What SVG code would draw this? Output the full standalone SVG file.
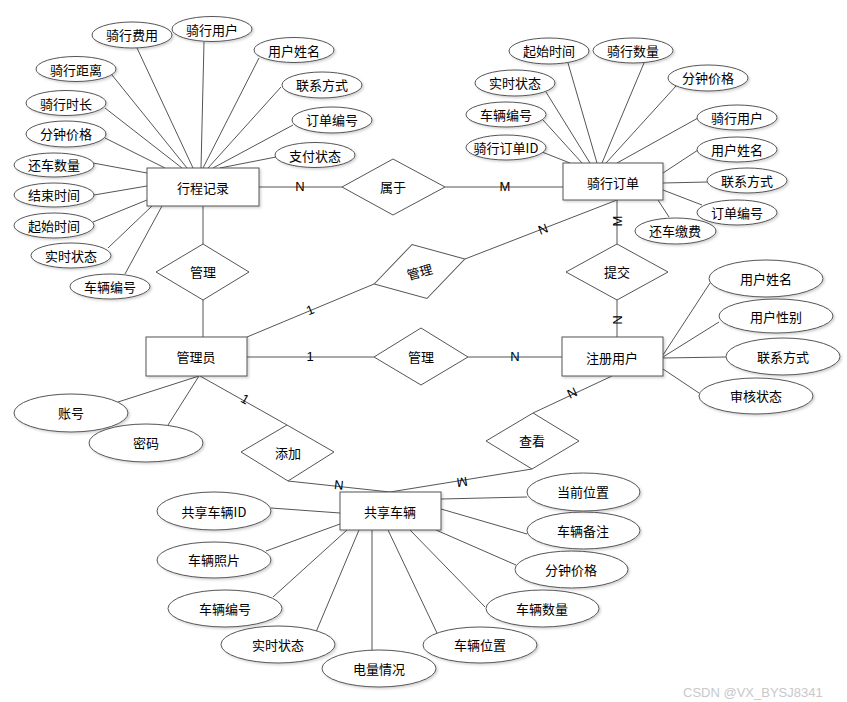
<svg xmlns="http://www.w3.org/2000/svg" width="847" height="702" viewBox="0 0 847 702">
<defs>
<filter id="sh" x="-10%" y="-10%" width="130%" height="140%">
<feDropShadow dx="1.5" dy="1.5" stdDeviation="0.8" flood-color="#000" flood-opacity="0.18"/>
</filter>
</defs>
<style>
.e{fill:#fff;stroke:#555;stroke-width:1;filter:url(#sh)}
.r{fill:#fff;stroke:#555;stroke-width:1;filter:url(#sh)}
.d{fill:#fff;stroke:#555;stroke-width:1}
.l{stroke:#555;stroke-width:1;fill:none}
text{font-family:"Noto Sans CJK SC","Liberation Sans",sans-serif;font-size:13px;fill:#000;text-anchor:middle;dominant-baseline:central}
.c{font-family:"Liberation Sans","DejaVu Sans",sans-serif;font-size:13px}
.wm{font-family:"Liberation Sans",sans-serif;font-size:13px;fill:#c8c8c8;text-anchor:start}
</style>
<rect width="847" height="702" fill="#fff"/>
<g id="connectors">
<!-- 行程记录 attributes -->
<line class="l" x1="137" y1="48" x2="193" y2="168"/>
<line class="l" x1="204" y1="42" x2="201" y2="168"/>
<line class="l" x1="259" y1="58" x2="203" y2="168"/>
<line class="l" x1="281" y1="87" x2="208" y2="168"/>
<line class="l" x1="293" y1="125" x2="213" y2="168"/>
<line class="l" x1="276" y1="157" x2="220" y2="168"/>
<line class="l" x1="112" y1="75" x2="187" y2="168"/>
<line class="l" x1="105" y1="108" x2="182" y2="168"/>
<line class="l" x1="105" y1="138" x2="165" y2="168"/>
<line class="l" x1="93" y1="163" x2="147" y2="173"/>
<line class="l" x1="94" y1="195" x2="147" y2="186"/>
<line class="l" x1="93" y1="222" x2="147" y2="200"/>
<line class="l" x1="108" y1="248" x2="152" y2="206"/>
<line class="l" x1="125" y1="274" x2="162" y2="206"/>
<!-- 骑行订单 attributes -->
<line class="l" x1="568" y1="63" x2="597" y2="163"/>
<line class="l" x1="644" y1="63" x2="602" y2="163"/>
<line class="l" x1="546" y1="92" x2="590" y2="163"/>
<line class="l" x1="676" y1="86" x2="606" y2="163"/>
<line class="l" x1="543" y1="120" x2="582" y2="163"/>
<line class="l" x1="698" y1="118" x2="617" y2="163"/>
<line class="l" x1="542" y1="152" x2="570" y2="163"/>
<line class="l" x1="698" y1="150" x2="663" y2="173"/>
<line class="l" x1="707" y1="182" x2="663" y2="183"/>
<line class="l" x1="702" y1="205" x2="663" y2="190"/>
<line class="l" x1="669" y1="217" x2="658" y2="200"/>
<!-- 注册用户 attributes -->
<line class="l" x1="710" y1="283" x2="663" y2="355"/>
<line class="l" x1="719" y1="322" x2="663" y2="357"/>
<line class="l" x1="726" y1="357" x2="663" y2="358"/>
<line class="l" x1="699" y1="393" x2="663" y2="369"/>
<!-- 管理员 attributes -->
<line class="l" x1="118" y1="402" x2="199" y2="376"/>
<line class="l" x1="168" y1="425" x2="199" y2="376"/>
<!-- 共享车辆 attributes -->
<line class="l" x1="271" y1="508" x2="340" y2="513"/>
<line class="l" x1="266" y1="551" x2="340" y2="524"/>
<line class="l" x1="273" y1="597" x2="347" y2="530"/>
<line class="l" x1="316" y1="632" x2="359" y2="530"/>
<line class="l" x1="372" y1="650" x2="372" y2="530"/>
<line class="l" x1="437" y1="633" x2="388" y2="530"/>
<line class="l" x1="485" y1="607" x2="410" y2="530"/>
<line class="l" x1="516" y1="565" x2="436" y2="530"/>
<line class="l" x1="527" y1="534" x2="441" y2="509"/>
<line class="l" x1="527" y1="497" x2="441" y2="499"/>
<!-- relationships -->
<line class="l" x1="259" y1="187" x2="342" y2="187"/>
<line class="l" x1="445" y1="187" x2="563" y2="187"/>
<line class="l" x1="203" y1="206" x2="203" y2="244"/>
<line class="l" x1="203" y1="300" x2="203" y2="337"/>
<line class="l" x1="247" y1="337" x2="374" y2="284"/>
<line class="l" x1="465" y1="259" x2="617" y2="200"/>
<line class="l" x1="617" y1="200" x2="617" y2="244"/>
<line class="l" x1="617" y1="300" x2="617" y2="337"/>
<line class="l" x1="247" y1="357" x2="374" y2="357"/>
<line class="l" x1="468" y1="357" x2="562" y2="357"/>
<line class="l" x1="200" y1="376" x2="287" y2="425"/>
<line class="l" x1="288" y1="481" x2="390" y2="492"/>
<line class="l" x1="390" y1="492" x2="532" y2="469"/>
<line class="l" x1="533" y1="413" x2="612" y2="376"/>
<!-- cardinality labels -->
<text class="c" x="300" y="186">N</text>
<text class="c" x="505" y="186">M</text>
<text class="c" transform="translate(310,310) rotate(-22.6)">1</text>
<text class="c" transform="translate(543,229) rotate(-21)">N</text>
<text class="c" transform="translate(617,221) rotate(-90)">M</text>
<text class="c" transform="translate(617,320) rotate(90)">N</text>
<text class="c" x="310" y="356">1</text>
<text class="c" x="515" y="356">N</text>
<text class="c" transform="translate(245,399) rotate(29)">1</text>
<text class="c" transform="translate(339,485) rotate(6)">N</text>
<text class="c" transform="translate(462,482) rotate(171)">M</text>
<text class="c" transform="translate(572,393) rotate(-25)">N</text>
</g>
<g id="n-xingcheng">
<rect class="r" x="147" y="168" width="112" height="38"/>
<text x="203" y="187">行程记录</text>
</g>
<g id="n-dingdan">
<rect class="r" x="563" y="163" width="100" height="37"/>
<text x="613" y="182">骑行订单</text>
</g>
<g id="n-guanliyuan">
<rect class="r" x="146" y="337" width="101" height="39"/>
<text x="196" y="356">管理员</text>
</g>
<g id="n-zhuce">
<rect class="r" x="562" y="337" width="101" height="39"/>
<text x="612" y="357">注册用户</text>
</g>
<g id="n-cheliang">
<rect class="r" x="340" y="492" width="101" height="38"/>
<text x="390" y="511">共享车辆</text>
</g>
<g id="r-shuyu">
<polygon class="d" points="342,187 393,159 445,187 393,215"/>
<text x="393" y="186">属于</text>
</g>
<g id="r-guanli1">
<polygon class="d" points="156,272 203,244 249,272 203,300"/>
<text x="203" y="271">管理</text>
</g>
<g id="r-guanli2">
<g transform="translate(419.5,271.5) rotate(-15.4)">
<polygon class="d" points="-47,0 0,-28 47,0 0,28"/>
<text x="0" y="0">管理</text>
</g>
</g>
<g id="r-guanli3">
<polygon class="d" points="374,357 421,328 468,357 421,385"/>
<text x="421" y="356">管理</text>
</g>
<g id="r-tijiao">
<polygon class="d" points="566,272 617,244 668,272 617,300"/>
<text x="617" y="271">提交</text>
</g>
<g id="r-tianjia">
<polygon class="d" points="241,452 287,425 334,452 288,481"/>
<text x="288" y="452">添加</text>
</g>
<g id="r-chakan">
<polygon class="d" points="486,441 533,413 579,441 532,469"/>
<text x="532" y="440">查看</text>
</g>
<g id="a-xingcheng">
<g id="a1"><ellipse class="e" cx="132" cy="35" rx="40" ry="13"/><text x="132" y="34">骑行费用</text></g>
<g id="a2"><ellipse class="e" cx="212" cy="29" rx="40" ry="12.5"/><text x="212" y="29">骑行用户</text></g>
<g id="a3"><ellipse class="e" cx="294" cy="50" rx="40" ry="12.5"/><text x="294" y="50">用户姓名</text></g>
<g id="a4"><ellipse class="e" cx="322" cy="85" rx="40" ry="13"/><text x="322" y="84">联系方式</text></g>
<g id="a5"><ellipse class="e" cx="332" cy="120" rx="40" ry="13"/><text x="332" y="119">订单编号</text></g>
<g id="a6"><ellipse class="e" cx="315" cy="155" rx="40" ry="12.5"/><text x="315" y="155">支付状态</text></g>
<g id="a7"><ellipse class="e" cx="76" cy="69" rx="40" ry="12.5"/><text x="76" y="69">骑行距离</text></g>
<g id="a8"><ellipse class="e" cx="66" cy="103" rx="40" ry="12.5"/><text x="66" y="103">骑行时长</text></g>
<g id="a9"><ellipse class="e" cx="66" cy="134" rx="40" ry="13"/><text x="66" y="133">分钟价格</text></g>
<g id="a10"><ellipse class="e" cx="54" cy="165" rx="40" ry="12"/><text x="54" y="164">还车数量</text></g>
<g id="a11"><ellipse class="e" cx="54" cy="195" rx="40" ry="12"/><text x="54" y="194">结束时间</text></g>
<g id="a12"><ellipse class="e" cx="54" cy="225.5" rx="40" ry="12.5"/><text x="54" y="225">起始时间</text></g>
<g id="a13"><ellipse class="e" cx="71" cy="255.5" rx="40" ry="12.5"/><text x="71" y="255">实时状态</text></g>
<g id="a14"><ellipse class="e" cx="110" cy="286.5" rx="40" ry="12.5"/><text x="110" y="286">车辆编号</text></g>
</g>
<g id="a-dingdan">
<g id="b1"><ellipse class="e" cx="549" cy="51" rx="40" ry="13"/><text x="549" y="50">起始时间</text></g>
<g id="b2"><ellipse class="e" cx="633" cy="50.5" rx="40" ry="12.5"/><text x="633" y="50">骑行数量</text></g>
<g id="b3"><ellipse class="e" cx="515" cy="83" rx="40" ry="13"/><text x="515" y="82">实时状态</text></g>
<g id="b4"><ellipse class="e" cx="708" cy="78" rx="40" ry="13"/><text x="708" y="77">分钟价格</text></g>
<g id="b5"><ellipse class="e" cx="506" cy="114.5" rx="40" ry="12.5"/><text x="506" y="114">车辆编号</text></g>
<g id="b6"><ellipse class="e" cx="737" cy="117.5" rx="40" ry="12.5"/><text x="737" y="117">骑行用户</text></g>
<g id="b7"><ellipse class="e" cx="506" cy="147.5" rx="40" ry="12.5"/><text x="506" y="147">骑行订单ID</text></g>
<g id="b8"><ellipse class="e" cx="737" cy="149.5" rx="40" ry="12.5"/><text x="737" y="149">用户姓名</text></g>
<g id="b9"><ellipse class="e" cx="747" cy="180.5" rx="40" ry="12.5"/><text x="747" y="180">联系方式</text></g>
<g id="b10"><ellipse class="e" cx="737" cy="212.5" rx="40" ry="12.5"/><text x="737" y="212">订单编号</text></g>
<g id="b11"><ellipse class="e" cx="675.5" cy="231" rx="40.5" ry="13"/><text x="675" y="230">还车缴费</text></g>
</g>
<g id="a-zhuce">
<g id="c1"><ellipse class="e" cx="766" cy="278.5" rx="57" ry="18.5"/><text x="766" y="278">用户姓名</text></g>
<g id="c2"><ellipse class="e" cx="776" cy="316" rx="57" ry="17"/><text x="776" y="316">用户性别</text></g>
<g id="c3"><ellipse class="e" cx="783" cy="356.5" rx="57" ry="18.5"/><text x="783" y="356">联系方式</text></g>
<g id="c4"><ellipse class="e" cx="756" cy="396" rx="57" ry="18"/><text x="756" y="395">审核状态</text></g>
</g>
<g id="a-guanliyuan">
<g id="d1"><ellipse class="e" cx="71" cy="413" rx="57" ry="19"/><text x="71" y="412">账号</text></g>
<g id="d2"><ellipse class="e" cx="146" cy="443" rx="57" ry="19"/><text x="146" y="442">密码</text></g>
</g>
<g id="a-cheliang">
<g id="f1"><ellipse class="e" cx="214" cy="511" rx="57" ry="19"/><text x="214" y="511">共享车辆ID</text></g>
<g id="f2"><ellipse class="e" cx="214" cy="560" rx="57" ry="18"/><text x="214" y="559">车辆照片</text></g>
<g id="f3"><ellipse class="e" cx="225" cy="608.5" rx="57" ry="18.5"/><text x="225" y="608">车辆编号</text></g>
<g id="f4"><ellipse class="e" cx="278" cy="644.5" rx="57" ry="18.5"/><text x="278" y="644">实时状态</text></g>
<g id="f5"><ellipse class="e" cx="379" cy="668.5" rx="57" ry="18.5"/><text x="379" y="668">电量情况</text></g>
<g id="f6"><ellipse class="e" cx="480" cy="645" rx="57" ry="18"/><text x="480" y="644">车辆位置</text></g>
<g id="f7"><ellipse class="e" cx="542.5" cy="608.5" rx="56.5" ry="18.5"/><text x="542" y="608">车辆数量</text></g>
<g id="f8"><ellipse class="e" cx="571.5" cy="569.5" rx="56.5" ry="18.5"/><text x="571" y="569">分钟价格</text></g>
<g id="f9"><ellipse class="e" cx="583.5" cy="530.5" rx="56.5" ry="18.5"/><text x="583" y="530">车辆备注</text></g>
<g id="f10"><ellipse class="e" cx="583.5" cy="492" rx="56.5" ry="19"/><text x="583" y="491">当前位置</text></g>
</g>
<text class="wm" x="683" y="692" dominant-baseline="auto">CSDN @VX_BYSJ8341</text>
</svg>
